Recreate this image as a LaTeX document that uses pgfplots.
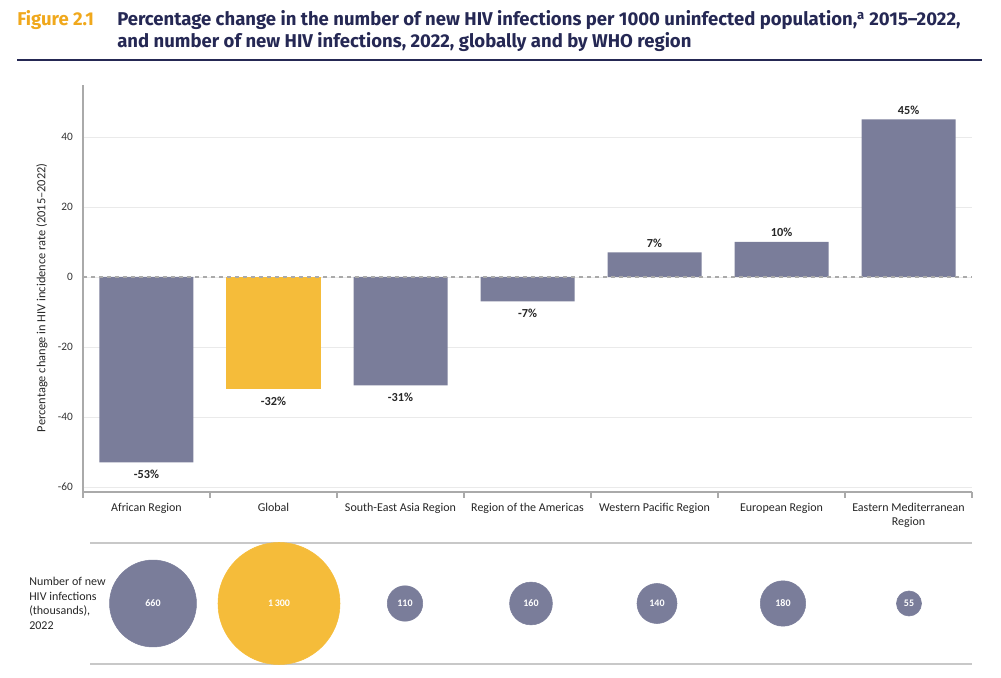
\documentclass[border=0pt]{standalone}
\usepackage{pgfplots}
\pgfplotsset{compat=1.18}
\usepackage{pgfplotstable}
\usepackage{fontspec}
\setmainfont{Carlito}
\newfontfamily\titlefont{Fira Sans}

\definecolor{slate}{RGB}{122,125,154}
\definecolor{gold}{RGB}{245,188,58}
\definecolor{figorange}{RGB}{240,168,28}
\definecolor{navy}{RGB}{37,40,84}
\definecolor{axisgray}{RGB}{170,170,170}
\definecolor{gridgray}{RGB}{234,234,234}
\definecolor{rulegray}{RGB}{200,200,200}

% pixel position (x from left, y from top) of a 1001 x 678 canvas
\newcommand{\pxy}[2]{({(#1)*0.75pt},{(678-(#2))*0.75pt})}

% Percentage change in incidence rate, 2015-2022
\pgfplotstableread{
x  y   lab
0 -53  {-53\%}
2 -31  {-31\%}
3 -7   {-7\%}
}\negbars
\pgfplotstableread{
x  y   lab
4  7   {7\%}
5  10  {10\%}
6  45  {45\%}
}\posbars
\pgfplotstableread{
x  y   lab
1 -32  {-32\%}
}\globalbar

% New HIV infections in 2022 (thousands)
\pgfplotstableread{
x  y    v     lab
0  0.5  660   660
2  0.5  110   110
3  0.5  160   160
4  0.5  140   140
5  0.5  180   180
6  0.5  55    55
}\regionbubbles
\pgfplotstableread{
x  y    v     lab
1  0.5  1300  {1\,300}
}\globalbubble

\begin{document}
\begin{tikzpicture}
\useasboundingbox \pxy{0}{0} rectangle \pxy{1001}{678};

% heading
\tikzset{headfont/.style={inner sep=0, anchor=base west,
  font=\titlefont\bfseries\fontsize{13.9}{16.5}\selectfont}}
\node[headfont, text=figorange] at \pxy{17}{26} {Figure 2.1};
\node[headfont, text=navy] at \pxy{117}{26}
  {Percentage change in the number of new HIV infections per 1000 uninfected population,\textsuperscript{a} 2015–2022,};
\node[headfont, text=navy] at \pxy{117}{48}
  {and number of new HIV infections, 2022, globally and by WHO region};
\draw[navy, line width=1.9pt] \pxy{17}{60} -- \pxy{982}{60};

% bar chart
\begin{axis}[
  at={(62.25pt,139.5pt)}, anchor=south west,
  scale only axis, width=666.75pt, height=305.25pt,
  xmin=-0.5, xmax=6.5, ymin=-61.43, ymax=54.86,
  axis x line*=bottom, axis y line*=left,
  axis line style={axisgray, line width=1.1pt, -},
  ytick={-60,-40,...,40},
  ymajorgrids, major grid style={gridgray, line width=0.6pt},
  major tick length=0pt,
  yticklabel style={font=\fontsize{8.5}{9}\selectfont, text=black!80, xshift=-4pt},
  /pgf/number format/assume math mode=true,
  xtick={0,...,6},
  xticklabels={African Region, Global, South-East Asia Region, Region of the Americas,
               Western Pacific Region, European Region, {Eastern Mediterranean\\Region}},
  xticklabel style={font=\fontsize{9}{10.6}\selectfont, align=center, text=black!85, yshift=-5pt},
  minor xtick={-0.5,0.5,...,6.5},
  minor x tick style={axisgray, line width=0.8pt},
  minor tick length=4.5pt,
  xtick align=outside,
  ylabel={Percentage change in HIV incidence rate (2015–2022)},
  ylabel style={font=\fontsize{9.3}{10}\selectfont, text=black!85,
                at={(axis description cs:-0.0461,0.477)}, anchor=center},
  clip=false,
  bar width=70.5pt,
  point meta=explicit symbolic,
  nodes near coords,
  every node near coord/.append style={font=\bfseries\fontsize{9.2}{10}\selectfont, text=black!85},
]
\addplot[ybar, bar shift=0pt, fill=slate, draw=none,
  every node near coord/.append style={anchor=north, yshift=-2.5pt}]
  table[x=x, y=y, meta=lab] {\negbars};
\addplot[ybar, bar shift=0pt, fill=gold, draw=none,
  every node near coord/.append style={anchor=north, yshift=-2.5pt}]
  table[x=x, y=y, meta=lab] {\globalbar};
\addplot[ybar, bar shift=0pt, fill=slate, draw=none,
  every node near coord/.append style={anchor=south, yshift=0.5pt}]
  table[x=x, y=y, meta=lab] {\posbars};
\draw[axisgray, dashed, line width=0.8pt] (axis cs:-0.5,0) -- (axis cs:6.5,0);
\end{axis}

% bubble row
\node[anchor=west, align=left, inner sep=0, text=black!85,
      font=\fontsize{9}{10.9}\selectfont] at \pxy{29}{603.5}
  {Number of new\\HIV infections\\(thousands),\\2022};

\begin{axis}[
  at={(67.5pt,10.5pt)}, anchor=south west,
  scale only axis, width=661.5pt, height=90.75pt,
  xmin=-0.5, xmax=6.5, ymin=0, ymax=1,
  hide axis, clip=false,
  visualization depends on={45.75*sqrt(\thisrow{v}/1300) \as \rad},
]
\draw[rulegray, line width=1.3pt] (rel axis cs:0,1) -- (rel axis cs:1,1);
\draw[rulegray, line width=1.3pt] (rel axis cs:0,0) -- (rel axis cs:1,0);
% circle area proportional to the number of new infections
\addplot[scatter, only marks, mark=*, point meta=explicit,
  scatter/use mapped color={fill=slate, draw=slate},
  scatter/@pre marker code/.append style={/tikz/mark size=\rad, /tikz/line width=0pt}]
  table[x=x, y=y, meta=v] {\regionbubbles};
\addplot[scatter, only marks, mark=*, point meta=explicit,
  scatter/use mapped color={fill=gold, draw=gold},
  scatter/@pre marker code/.append style={/tikz/mark size=\rad, /tikz/line width=0pt}]
  table[x=x, y=y, meta=v] {\globalbubble};
% value labels inside the circles
\addplot[only marks, mark=none, point meta=explicit symbolic, nodes near coords,
  every node near coord/.style={anchor=center, text=white, inner sep=0,
      font=\bfseries\fontsize{7.5}{9}\selectfont}]
  table[x=x, y=y, meta=lab] {\regionbubbles};
\addplot[only marks, mark=none, point meta=explicit symbolic, nodes near coords,
  every node near coord/.style={anchor=center, text=white, inner sep=0,
      font=\bfseries\fontsize{7.5}{9}\selectfont}]
  table[x=x, y=y, meta=lab] {\globalbubble};
\end{axis}
\end{tikzpicture}
\end{document}
